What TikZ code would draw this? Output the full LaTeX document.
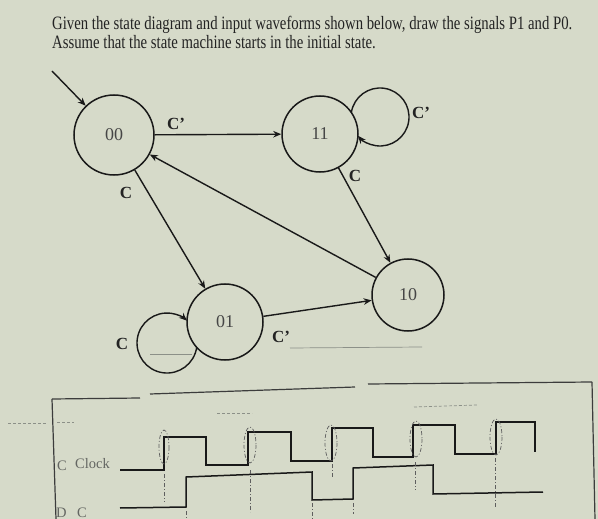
\documentclass[tikz,border=0pt]{standalone}
\usepackage{fontspec}
\setmainfont{Liberation Serif}
\usetikzlibrary{arrows.meta}
\definecolor{bg}{RGB}{214,218,201}
\definecolor{ink}{RGB}{25,25,25}
\definecolor{txt}{RGB}{35,35,35}
\definecolor{dig}{RGB}{70,70,70}
\definecolor{lbl}{RGB}{100,102,98}
\definecolor{faint}{RGB}{140,144,136}
\begin{document}
\begin{tikzpicture}[x=1pt,y=-1pt,
  state/.style={circle,draw=ink,line width=1.5pt,inner sep=0pt,
    font=\fontsize{18}{18}\selectfont,text=dig},
  trans/.style={draw=ink,line width=1.4pt,-{Stealth[length=8pt,width=6.5pt]}},
  elabel/.style={inner sep=0pt,font=\fontsize{17}{17}\selectfont\bfseries,text=txt},
  title/.style={anchor=base west,inner sep=0pt,text=txt,font=\fontsize{14.75}{14.75}\selectfont},
  wave/.style={draw=ink,line width=1.5pt},
  boxline/.style={draw=ink!85,line width=1.2pt},
  faintline/.style={draw=faint,line width=0.7pt},
  faintdash/.style={draw=faint,line width=0.7pt,dash pattern=on 3pt off 2pt},
  edgemark/.style={draw=ink!70,line width=0.7pt,dash pattern=on 4pt off 2pt on 1pt off 2pt},
  wlabel/.style={anchor=base west,inner sep=0pt,text=lbl,font=\fontsize{14.5}{14.5}\selectfont}]
\fill[bg] (0,0) rectangle (598,519);
\useasboundingbox (0,0) rectangle (598,519);

% title
\node[title] (t1) at (52,30) {\scalebox{1}[1.28]{Given the state diagram and input waveforms shown below, draw the signals P1 and P0.}};
\node[title] (t2) at (52,49) {\scalebox{1}[1.28]{Assume that the state machine starts in the initial state.}};

% states
\node[state,minimum size=80pt] (s00) at (114,135) {00};
\node[state,minimum size=76pt] (s11) at (320,134) {11};
\node[state,minimum size=76pt] (s01) at (225,322) {01};
\node[state,minimum size=72pt] (s10) at (408,295) {10};

% transitions
\coordinate (init) at (52,71);
\draw[trans] (init) -- (s00);
\draw[trans] (s00) -- (s11);
\draw[trans] (s11) -- (s10);
\draw[trans] (s10) -- (s00);
\draw[trans] (s00) -- (s01);
\draw[trans] (s01) -- (s10);
\draw[trans] (351.35,112.6) arc[start angle=188.7,end angle=499.6,radius=29];
\draw[trans] (196.7,347.3) arc[start angle=8.2,end angle=311.8,radius=30];

% edge labels
\node[elabel] (l1) at (176,124) {C'};
\node[elabel] (l2) at (126,193) {C};
\node[elabel] (l3) at (421,113) {C'};
\node[elabel] (l4) at (355,176) {C};
\node[elabel] (l5) at (122,344) {C};
\node[elabel] (l6) at (281,337) {C'};

% faint lines
\draw[faintline] (290,348) -- (422,347);
\draw[faintline] (150,354) -- (192,354);

% waveform box
\draw[boxline] (52,399) -- (140,398);
\draw[boxline] (150,394) -- (355,387);
\draw[boxline] (368,384) -- (592,382);
\draw[boxline] (52,399) -- (56,519);
\draw[boxline] (592,382) -- (595,519);

\draw[faintdash] (8,423) -- (46,423);
\draw[faintdash] (57,422) -- (74,422);
\draw[faintdash] (217,413) -- (252,413);
\draw[faintdash] (414,407) -- (477,405);

% labels
\node[wlabel] (lc) at (57,470) {C};
\node[wlabel] (lclk) at (75,468) {Clock};
\node[wlabel] (ld) at (56,517) {D};
\node[wlabel] (lcc) at (77,517) {C};

% clock
\draw[wave] (120,470) -- (164,470) -- (164,437) -- (206,437) -- (206,465) -- (248,465)
  -- (248,432) -- (291,432) -- (291,461) -- (332,461) -- (332,428) -- (373,428)
  -- (373,457) -- (413,457) -- (413,425) -- (455,425) -- (455,454) -- (496,454)
  -- (496,422) -- (535,422) -- (535,452);
% input C
\draw[wave] (120,508) -- (186,507) -- (186,477) -- (312,472) -- (312,500) -- (353,499)
  -- (353,468) -- (433,465) -- (433,494) -- (543,492);

% dashed ellipses on rising edges
\draw[edgemark] (164,447) ellipse[x radius=5,y radius=17];
\draw[edgemark] (250,445) ellipse[x radius=6,y radius=18];
\draw[edgemark] (331,443) ellipse[x radius=6,y radius=18];
\draw[edgemark] (416,439) ellipse[x radius=6,y radius=18];
\draw[edgemark] (496,437) ellipse[x radius=6,y radius=18];

% dash-dot guide marks
\draw[edgemark] (164,474) -- (164,502);
\draw[edgemark] (186,511) -- (186,519);
\draw[edgemark] (250,470) -- (250,512);
\draw[edgemark] (312,503) -- (312,519);
\draw[edgemark] (332,464) -- (332,478);
\draw[edgemark] (353,503) -- (353,514);
\draw[edgemark] (415,462) -- (415,490);
\draw[edgemark] (495,458) -- (495,508);
\end{tikzpicture}
\end{document}
